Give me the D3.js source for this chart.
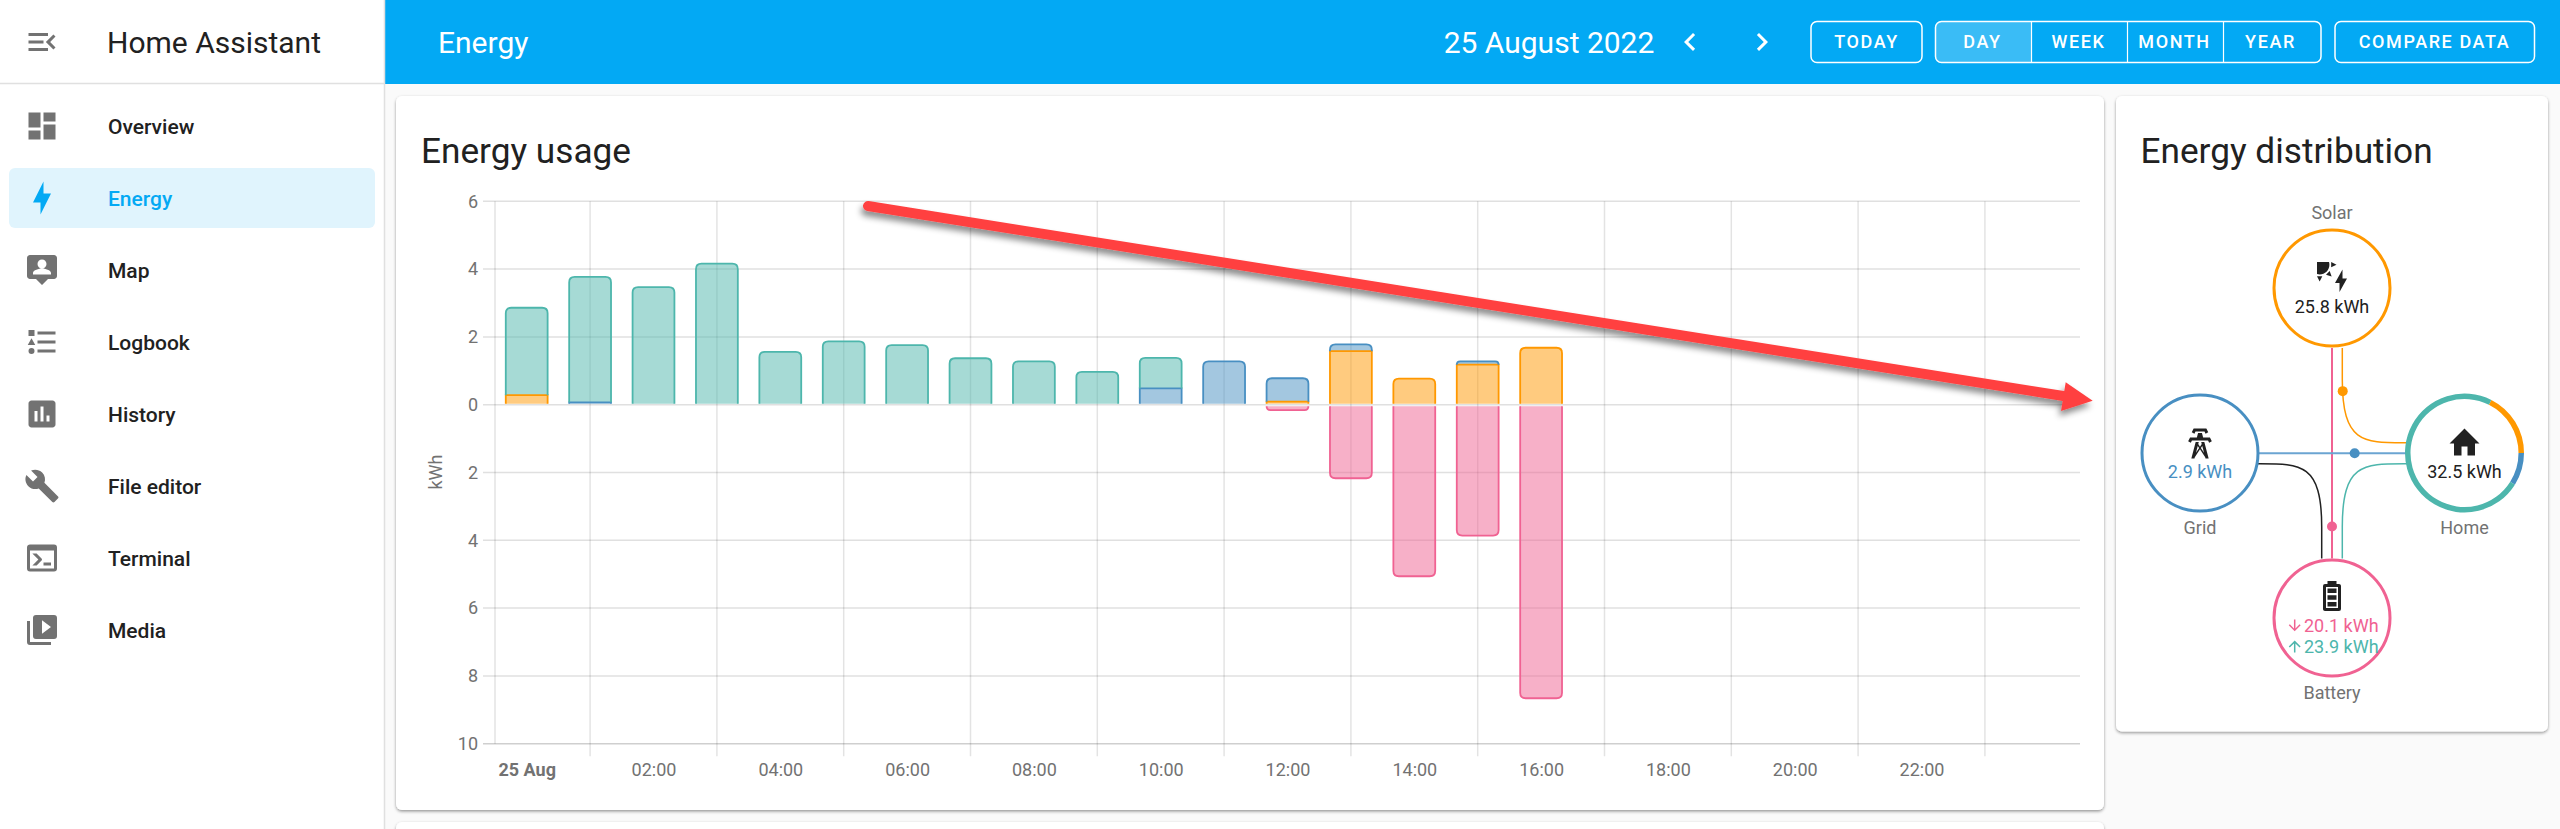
<!DOCTYPE html>
<html><head><meta charset="utf-8">
<script src="https://cdn.jsdelivr.net/npm/d3@7"></script>
<style>
html,body{margin:0;padding:0;background:#fafafa;overflow:hidden}
svg{display:block;font-family:Roboto,sans-serif}
</style></head><body>
<svg id="c" width="2560" height="829"></svg>
<script>
// ---- data ----
const hours = [0,1,2,3,4,5,6,7,8,9,10,11,12,13,14,15,16];
const solarToHome = [0.28,0,0,0,0,0,0,0,0,0,0,0,0.09,1.58,0.77,1.18,1.68];
const gridToHome  = [0,0.07,0,0,0,0,0,0,0,0,0.48,1.28,0.69,0.20,0,0.10,0];
const batteryOut  = [2.58,3.70,3.47,4.16,1.56,1.87,1.76,1.37,1.28,0.97,0.90,0,0,0,0,0,0];
const batteryIn   = [0,0,0,0,0,0,0,0,0,0,0,0,0.16,2.17,5.06,3.86,8.66];
const yTicks = [6,4,2,0,-2,-4,-6,-8,-10];
const xLabels = ['25 Aug','02:00','04:00','06:00','08:00','10:00','12:00','14:00','16:00','18:00','20:00','22:00'];
const navItems = ['Overview','Energy','Map','Logbook','History','File editor','Terminal','Media'];
const rangeButtons = ['DAY','WEEK','MONTH','YEAR'];
const homeParts = [5.7,2.9,23.9]; // solar, grid, battery share of home

// ---- style ----
const C = {solar:'#ff9800',grid:'#488fc2',out:'#4db6ac',in:'#f06292',primary:'#03a9f4',text:'#212121',sec:'#727272'};
const P = {
 menu:'M21,15.61L19.59,17L14.58,12L19.59,7L21,8.39L17.44,12L21,15.61M3,6H16V8H3V6M3,13V11H13V13H3M3,18V16H16V18H3Z',
 Overview:'M13,3V9H21V3M13,21H21V11H13M3,21H11V15H3M3,13H11V3H3V13Z',
 Energy:'M11 15H6L13 1V9H18L11 23V15Z',
 Map:'M20 2H4C2.9 2 2 2.9 2 4V16C2 17.1 2.9 18 4 18H8L12 22L16 18H20C21.1 18 22 17.1 22 16V4C22 2.9 21.1 2 20 2M12 5C13.66 5 15 6.34 15 8C15 9.66 13.66 11 12 11C10.34 11 9 9.66 9 8C9 6.34 10.34 5 12 5M18 15H6V14C6 12 10 11 12 11C14 11 18 12 18 14V15Z',
 Logbook:'M5,9.5L7.5,14H2.5L5,9.5M3,4H7V8H3V4M5,20A2,2 0 0,0 7,18A2,2 0 0,0 5,16A2,2 0 0,0 3,18A2,2 0 0,0 5,20M9,5V7H21V5H9M9,19H21V17H9V19M9,13H21V11H9V13Z',
 History:'M9 17H7V10H9V17M13 17H11V7H13V17M17 17H15V13H17V17M19 3H5C3.9 3 3 3.9 3 5V19C3 20.1 3.9 21 5 21H19C20.1 21 21 20.1 21 19V5C21 3.9 20.1 3 19 3Z',
 'File editor':'M22.7,19L13.6,9.9C14.5,7.6 14,4.9 12.1,3C10.1,1 7.1,0.6 4.7,1.7L9,6L6,9L1.6,4.7C0.4,7.1 0.9,10.1 2.9,12.1C4.8,14 7.5,14.5 9.8,13.6L18.9,22.7C19.3,23.1 19.9,23.1 20.3,22.7L22.6,20.4C23.1,20 23.1,19.3 22.7,19Z',
 Terminal:'M20,19V7H4V19H20M20,3A2,2 0 0,1 22,5V19A2,2 0 0,1 20,21H4A2,2 0 0,1 2,19V5C2,3.89 2.9,3 4,3H20M13,17V15H18V17H13M9.58,13L5.57,9H8.4L11.7,12.3C12.09,12.69 12.09,13.33 11.7,13.72L8.42,17H5.59L9.58,13Z',
 Media:'M4 6H2V20A2 2 0 0 0 4 22H18V20H4V6M20 2H8A2 2 0 0 0 6 4V16A2 2 0 0 0 8 18H20A2 2 0 0 0 22 16V4A2 2 0 0 0 20 2M12 14.5V5.5L18 10L12 14.5Z',
 left:'M15.41,16.58L10.83,12L15.41,7.41L14,6L8,12L14,18L15.41,16.58Z',
 right:'M8.59,16.58L13.17,12L8.59,7.41L10,6L16,12L10,18L8.59,16.58Z',
 solar:'M11.45,2V5.55L15,3.77L11.45,2M10.45,8L8,10.46L11.75,11.71L10.45,8M2,11.45L3.77,15L5.55,11.45H2M10,2H2V10C2.57,10.17 3.17,10.25 3.77,10.25C7.35,10.26 10.26,7.35 10.27,3.75C10.26,3.16 10.17,2.57 10,2M17,22V16H14L19,7V13H22L17,22Z',
 tower:'M8.28,5.45L6.5,4.55L7.76,2H16.23L17.5,4.55L15.72,5.44L15,4H9L8.28,5.45M18.62,8H14.09L13.3,5H10.7L9.91,8H5.38L4.1,10.55L5.89,11.44L6.62,10H17.38L18.1,11.45L19.89,10.56L18.62,8M17.77,22H15.7L15.46,21.1L12,15.9L8.53,21.1L8.3,22H6.23L9.12,11H11.19L10.83,12.35L12,14.1L13.16,12.35L12.81,11H14.88L17.77,22M11.4,15L10.5,13.65L9.32,18.13L11.4,15M14.68,18.12L13.5,13.64L12.6,15L14.68,18.12Z',
 home:'M10,20V14H14V20H19V12H22L12,2L2,12H5V20H10Z',
 battery:'M16,20H8V6H16M16.67,4H15V2H9V4H7.33A1.33,1.33 0 0,0 6,5.33V20.67C6,21.4 6.6,22 7.33,22H16.67A1.33,1.33 0 0,0 18,20.67V5.33C18,4.6 17.4,4 16.67,4Z',
 batteryBars:'M9,7H15V10H9ZM9,11.5H15V14.5H9ZM9,16H15V19H9Z',
 down:'M11,4H13V16L18.5,10.5L19.92,11.92L12,19.84L4.08,11.92L5.5,10.5L11,16V4Z',
 up:'M13,20H11V8L5.5,13.5L4.08,12.08L12,4.16L19.92,12.08L18.5,13.5L13,8V20Z'
};

const svg = d3.select('#c');
const defs = svg.append('defs');
const mkShadow=(id,dx,dy,sd,op)=>{const f=defs.append('filter').attr('id',id).attr('x','-5%').attr('y','-5%').attr('width','110%').attr('height','110%');
 f.append('feDropShadow').attr('dx',dx).attr('dy',dy).attr('stdDeviation',sd).attr('flood-color','#000').attr('flood-opacity',op);};
mkShadow('card',0,1.5,1.5,0.4);
const af=defs.append('filter').attr('id','arrowShadow').attr('filterUnits','userSpaceOnUse').attr('x',800).attr('y',150).attr('width',1400).attr('height',320);
af.append('feDropShadow').attr('dx',-2).attr('dy',5).attr('stdDeviation',3).attr('flood-color','#000').attr('flood-opacity',0.45);

const icon=(g,d,cx,cy,size,fill)=>g.append('path').attr('d',d).attr('fill',fill).attr('fill-rule','evenodd')
  .attr('transform',`translate(${cx-size/2},${cy-size/2}) scale(${size/24})`);
const txt=(g,s,x,y,size,fill,anchor='start',weight=400)=>g.append('text').text(s).attr('x',x).attr('y',y).attr('dy','.355em')
  .attr('font-size',size).attr('fill',fill).attr('text-anchor',anchor).attr('font-weight',weight);

// ---- page frame ----
svg.append('rect').attr('width',2560).attr('height',829).attr('fill','#fafafa');
svg.append('rect').attr('x',385).attr('width',2175).attr('height',84).attr('fill',C.primary);
const side=svg.append('g');
side.append('rect').attr('width',384).attr('height',829).attr('fill','#fff');
side.append('line').attr('x1',384.5).attr('x2',384.5).attr('y1',0).attr('y2',829).attr('stroke','#e0e0e0').attr('stroke-width',1.5);
side.append('line').attr('x1',0).attr('x2',384).attr('y1',83.5).attr('y2',83.5).attr('stroke','#e0e0e0').attr('stroke-width',1.5);
icon(side,P.menu,42,42,36,C.sec);
txt(side,'Home Assistant',107,42,30,C.text);
side.append('rect').attr('x',9).attr('y',168).attr('width',366).attr('height',60).attr('rx',6).attr('fill','#e0f4fd');
navItems.forEach((n,i)=>{const cy=126+72*i,col=n==='Energy'?C.primary:C.sec;
  icon(side,P[n],42,cy,36,col);
  txt(side,n,108,cy+.5,21,n==='Energy'?C.primary:C.text,'start',500);});

// ---- top bar ----
const top_=svg.append('g');
txt(top_,'Energy',438,42,30,'#fff');
txt(top_,'25 August 2022',1549,42,30,'#fff','middle');
icon(top_,P.left,1690,42,36,'#fff'); icon(top_,P.right,1762,42,36,'#fff');
const outline=(x,w,fill)=>top_.append('rect').attr('x',x).attr('y',21.5).attr('width',w).attr('height',41).attr('rx',6)
  .attr('fill',fill||'none').attr('stroke','#fff').attr('stroke-width',1.5);
const btnText=(s,cx)=>txt(top_,s,cx,42,18,'#fff','middle',500).attr('letter-spacing',1.6);
outline(1811,111); btnText('TODAY',1866.5);
top_.append('path').attr('d','M1941.5,21.5H2031V62.5H1941.5A6,6 0 0 1 1935.5,56.5V27.5A6,6 0 0 1 1941.5,21.5Z').attr('fill','rgba(255,255,255,.22)');
outline(1935.5,385.5);
rangeButtons.forEach((b,i)=>{const x0=1935.5+96*i;
  if(i)top_.append('line').attr('x1',x0).attr('x2',x0).attr('y1',21.5).attr('y2',62.5).attr('stroke','#fff').attr('stroke-width',1.2);
  btnText(b,x0+47);});
outline(2335,199.5); btnText('COMPARE DATA',2434.5);

// ---- cards ----
const card=(x,y,w,h)=>svg.append('rect').attr('x',x).attr('y',y).attr('width',w).attr('height',h).attr('rx',6).attr('fill','#fff').attr('filter','url(#card)');
card(396,822,1708,40);
card(396,96,1708,714);
card(2116,96,432,635.5);
const title=(s,x)=>svg.append('text').text(s).attr('x',x).attr('y',162.5).attr('font-size',35.2).attr('fill',C.text);
title('Energy usage',421); title('Energy distribution',2140.5);

// ---- chart ----
const x=d3.scaleLinear().domain([0,25]).range([495,2080]);
const y=d3.scaleLinear().domain([6,-10]).range([201.3,743.7]);
const chart=svg.append('g');
const gridCol='#e0e0e0', vCol='rgba(0,0,0,.11)';
chart.append('g').selectAll('line').data(yTicks).join('line')
  .attr('x1',483).attr('x2',x.range()[1]).attr('y1',d=>y(d)).attr('y2',d=>y(d))
  .attr('stroke',d=>d===-10?'#cfcfcf':gridCol).attr('stroke-width',1.5);
const oddHours=d3.range(1,24,2);
chart.append('line').attr('x1',x(0)).attr('x2',x(0)).attr('y1',y(6)).attr('y2',y(-10)).attr('stroke',vCol).attr('stroke-width',1.5);
chart.append('g').selectAll('line').data(oddHours).join('line')
  .attr('x1',d=>x(d+.5)).attr('x2',d=>x(d+.5)).attr('y1',y(6)).attr('y2',y(-10)+12.5).attr('stroke',vCol).attr('stroke-width',1.5);

const yAxis=d3.axisLeft(y).tickValues(yTicks).tickFormat(d=>Math.abs(d)).tickSize(0).tickPadding(0);
const ya=chart.append('g').attr('transform','translate(478,0)').call(yAxis);
ya.select('.domain').remove();
ya.selectAll('text').attr('font-size',18).attr('font-family','Roboto').attr('fill',C.sec);
const xAxis=d3.axisBottom(x).tickValues(xLabels.map((_,i)=>i*2+.5)).tickFormat((d,i)=>xLabels[i]).tickSize(0).tickPadding(0);
const xa=chart.append('g').attr('transform','translate(0,763)').call(xAxis);
xa.select('.domain').remove();
xa.selectAll('text').attr('font-size',18).attr('font-family','Roboto').attr('fill',C.sec).attr('font-weight',(d,i)=>i?400:700);
chart.append('text').text('kWh').attr('transform','translate(436,472) rotate(-90)').attr('dy','.355em').attr('text-anchor','middle').attr('font-size',18).attr('fill',C.sec);

// stacked bars
const rows=hours.map((h,i)=>({h,solar:solarToHome[i],grid:gridToHome[i],out:batteryOut[i]}));
const stack=d3.stack().keys(['solar','grid','out'])(rows);
const halfBar=.33, R=5.5;
function segPath(i,v0,v1,rounded,base){
  const xl=x(hours[i]+.5-halfBar), xr=x(hours[i]+.5+halfBar);
  const y0=y(v0)+base, y1=y(v1), p=d3.path(), dir=y1<y0?1:-1, r=rounded?Math.min(R,Math.abs(y1-y0)):0;
  p.moveTo(xl,y0); p.lineTo(xl,y1+dir*r);
  if(r)p.quadraticCurveTo(xl,y1,xl+r,y1);
  p.lineTo(xr-r,y1);
  if(r)p.quadraticCurveTo(xr,y1,xr,y1+dir*r);
  p.lineTo(xr,y0);
  return p.toString();
}
const segs=[];
stack.forEach(s=>s.forEach((d,i)=>{ if(d[1]-d[0]>0){
  const topMost=stack.every(o=>o===s||o[i][1]<=d[1]||o[i][1]-o[i][0]===0);
  segs.push({i,v0:d[0],v1:d[1],col:C[s.key],round:topMost,base:d[0]===0?-1:0});
}}));
batteryIn.forEach((v,i)=>{if(v>0)segs.push({i,v0:0,v1:-v,col:C.in,round:true,base:1.5});});
chart.append('g').selectAll('path.f').data(segs).join('path').attr('class','f')
  .attr('d',d=>segPath(d.i,d.v0,d.v1,d.round,d.base)+'Z').attr('fill',d=>d.col).attr('fill-opacity',.5).attr('stroke','none');
chart.append('g').selectAll('path.s').data(segs).join('path').attr('class','s')
  .attr('d',d=>segPath(d.i,d.v0,d.v1,d.round,d.base)).attr('fill','none').attr('stroke',d=>d.col).attr('stroke-width',1.8);

// ---- energy distribution ----
const dist=svg.append('g');
const lx=d3.scaleLinear().domain([0,100]).range([2229,2435]);
const ly=d3.scaleLinear().domain([0,100]).range([348,558.5]);
const curve=(sx,sy,vs,side_,yEnd,xEnd)=>{ // vertical start, S curve into a horizontal end
  const p=d3.path(); p.moveTo(lx(sx),ly(sy)); p.lineTo(lx(sx),ly(vs));
  p.bezierCurveTo(lx(sx),ly(yEnd),lx(sx+side_*10),ly(yEnd),lx(sx+side_*30),ly(yEnd));
  p.lineTo(lx(xEnd),ly(yEnd)); return p.toString();};
const flows=[
 {d:curve(55,0,15,1,45,110),c:C.solar,w:1.5},
 {d:curve(55,100,85,1,55,110),c:C.out,w:1.5},
 {d:curve(45,100,85,-1,55,-5),c:C.text,w:1.5},
 {d:`M${lx(50)},${ly(0)}V${ly(100)}`,c:C.in,w:2},
 {d:`M${lx(0)},${ly(50)}H${lx(100)}`,c:'#6ba5d2',w:2}
];
dist.append('g').selectAll('path').data(flows).join('path').attr('d',d=>d.d).attr('fill','none').attr('stroke',d=>d.c).attr('stroke-width',d=>d.w);
const dots=[{x:55.2,y:20.5,c:C.solar,r:5},{x:61,y:50,c:C.grid,r:5},{x:50,y:84.8,c:C.in,r:5}];
dist.append('g').selectAll('circle').data(dots).join('circle').attr('cx',d=>lx(d.x)).attr('cy',d=>ly(d.y)).attr('r',d=>d.r).attr('fill',d=>d.c);

const nodes=[{x:2332,y:288,c:C.solar},{x:2200,y:453,c:C.grid},{x:2332,y:618,c:C.in}];
dist.append('g').selectAll('circle').data(nodes).join('circle').attr('cx',d=>d.x).attr('cy',d=>d.y).attr('r',58).attr('fill','#fff').attr('stroke',d=>d.c).attr('stroke-width',3);
// home ring built from its three sources
const hc={x:2464.5,y:453};
dist.append('circle').attr('cx',hc.x).attr('cy',hc.y).attr('r',56).attr('fill','#fff');
const total=d3.sum(homeParts);
const startA=Math.PI/2-homeParts[0]/total*2*Math.PI;
const pie=d3.pie().sort(null).startAngle(startA).endAngle(startA+2*Math.PI)(homeParts);
const arc=d3.arc().innerRadius(54).outerRadius(59.5);
const ringCols=[C.solar,C.grid,C.out];
dist.append('g').attr('transform',`translate(${hc.x},${hc.y})`).selectAll('path').data(pie).join('path').attr('d',arc).attr('fill',(d,i)=>ringCols[i]);

icon(dist,P.solar,2332,277,36,C.text);
icon(dist,P.tower,2200,443.5,36,C.text);
icon(dist,P.home,2464.5,443.5,36,C.text);
icon(dist,P.battery,2332,596,36,C.text);
icon(dist,P.batteryBars,2332,596,36,C.text);
txt(dist,'Solar',2332,212.6,18,C.sec,'middle');
txt(dist,'Grid',2200,527.4,18,C.sec,'middle');
txt(dist,'Home',2464.5,527.4,18,C.sec,'middle');
txt(dist,'Battery',2332,692.7,18,C.sec,'middle');
txt(dist,'25.8 kWh',2332,306.5,18,C.text,'middle');
txt(dist,'2.9 kWh',2200,472,18,C.grid,'middle');
txt(dist,'32.5 kWh',2464.5,472,18,C.text,'middle');
icon(dist,P.down,2294.7,625.4,18,C.in);
txt(dist,'20.1 kWh',2304,625.4,18,C.in);
icon(dist,P.up,2294.7,646.4,18,C.out);
txt(dist,'23.9 kWh',2304,646.4,18,C.out);

// ---- annotation arrow ----
const ann=svg.append('g').attr('filter','url(#arrowShadow)');
ann.append('line').attr('x1',868).attr('y1',206).attr('x2',2068).attr('y2',396.7).attr('stroke','#ff4040').attr('stroke-width',10).attr('stroke-linecap','round');
ann.append('path').attr('d','M2092.7,400.7L2065.7,382.3L2061,411Z').attr('fill','#ff4040');
</script>
</body></html>
